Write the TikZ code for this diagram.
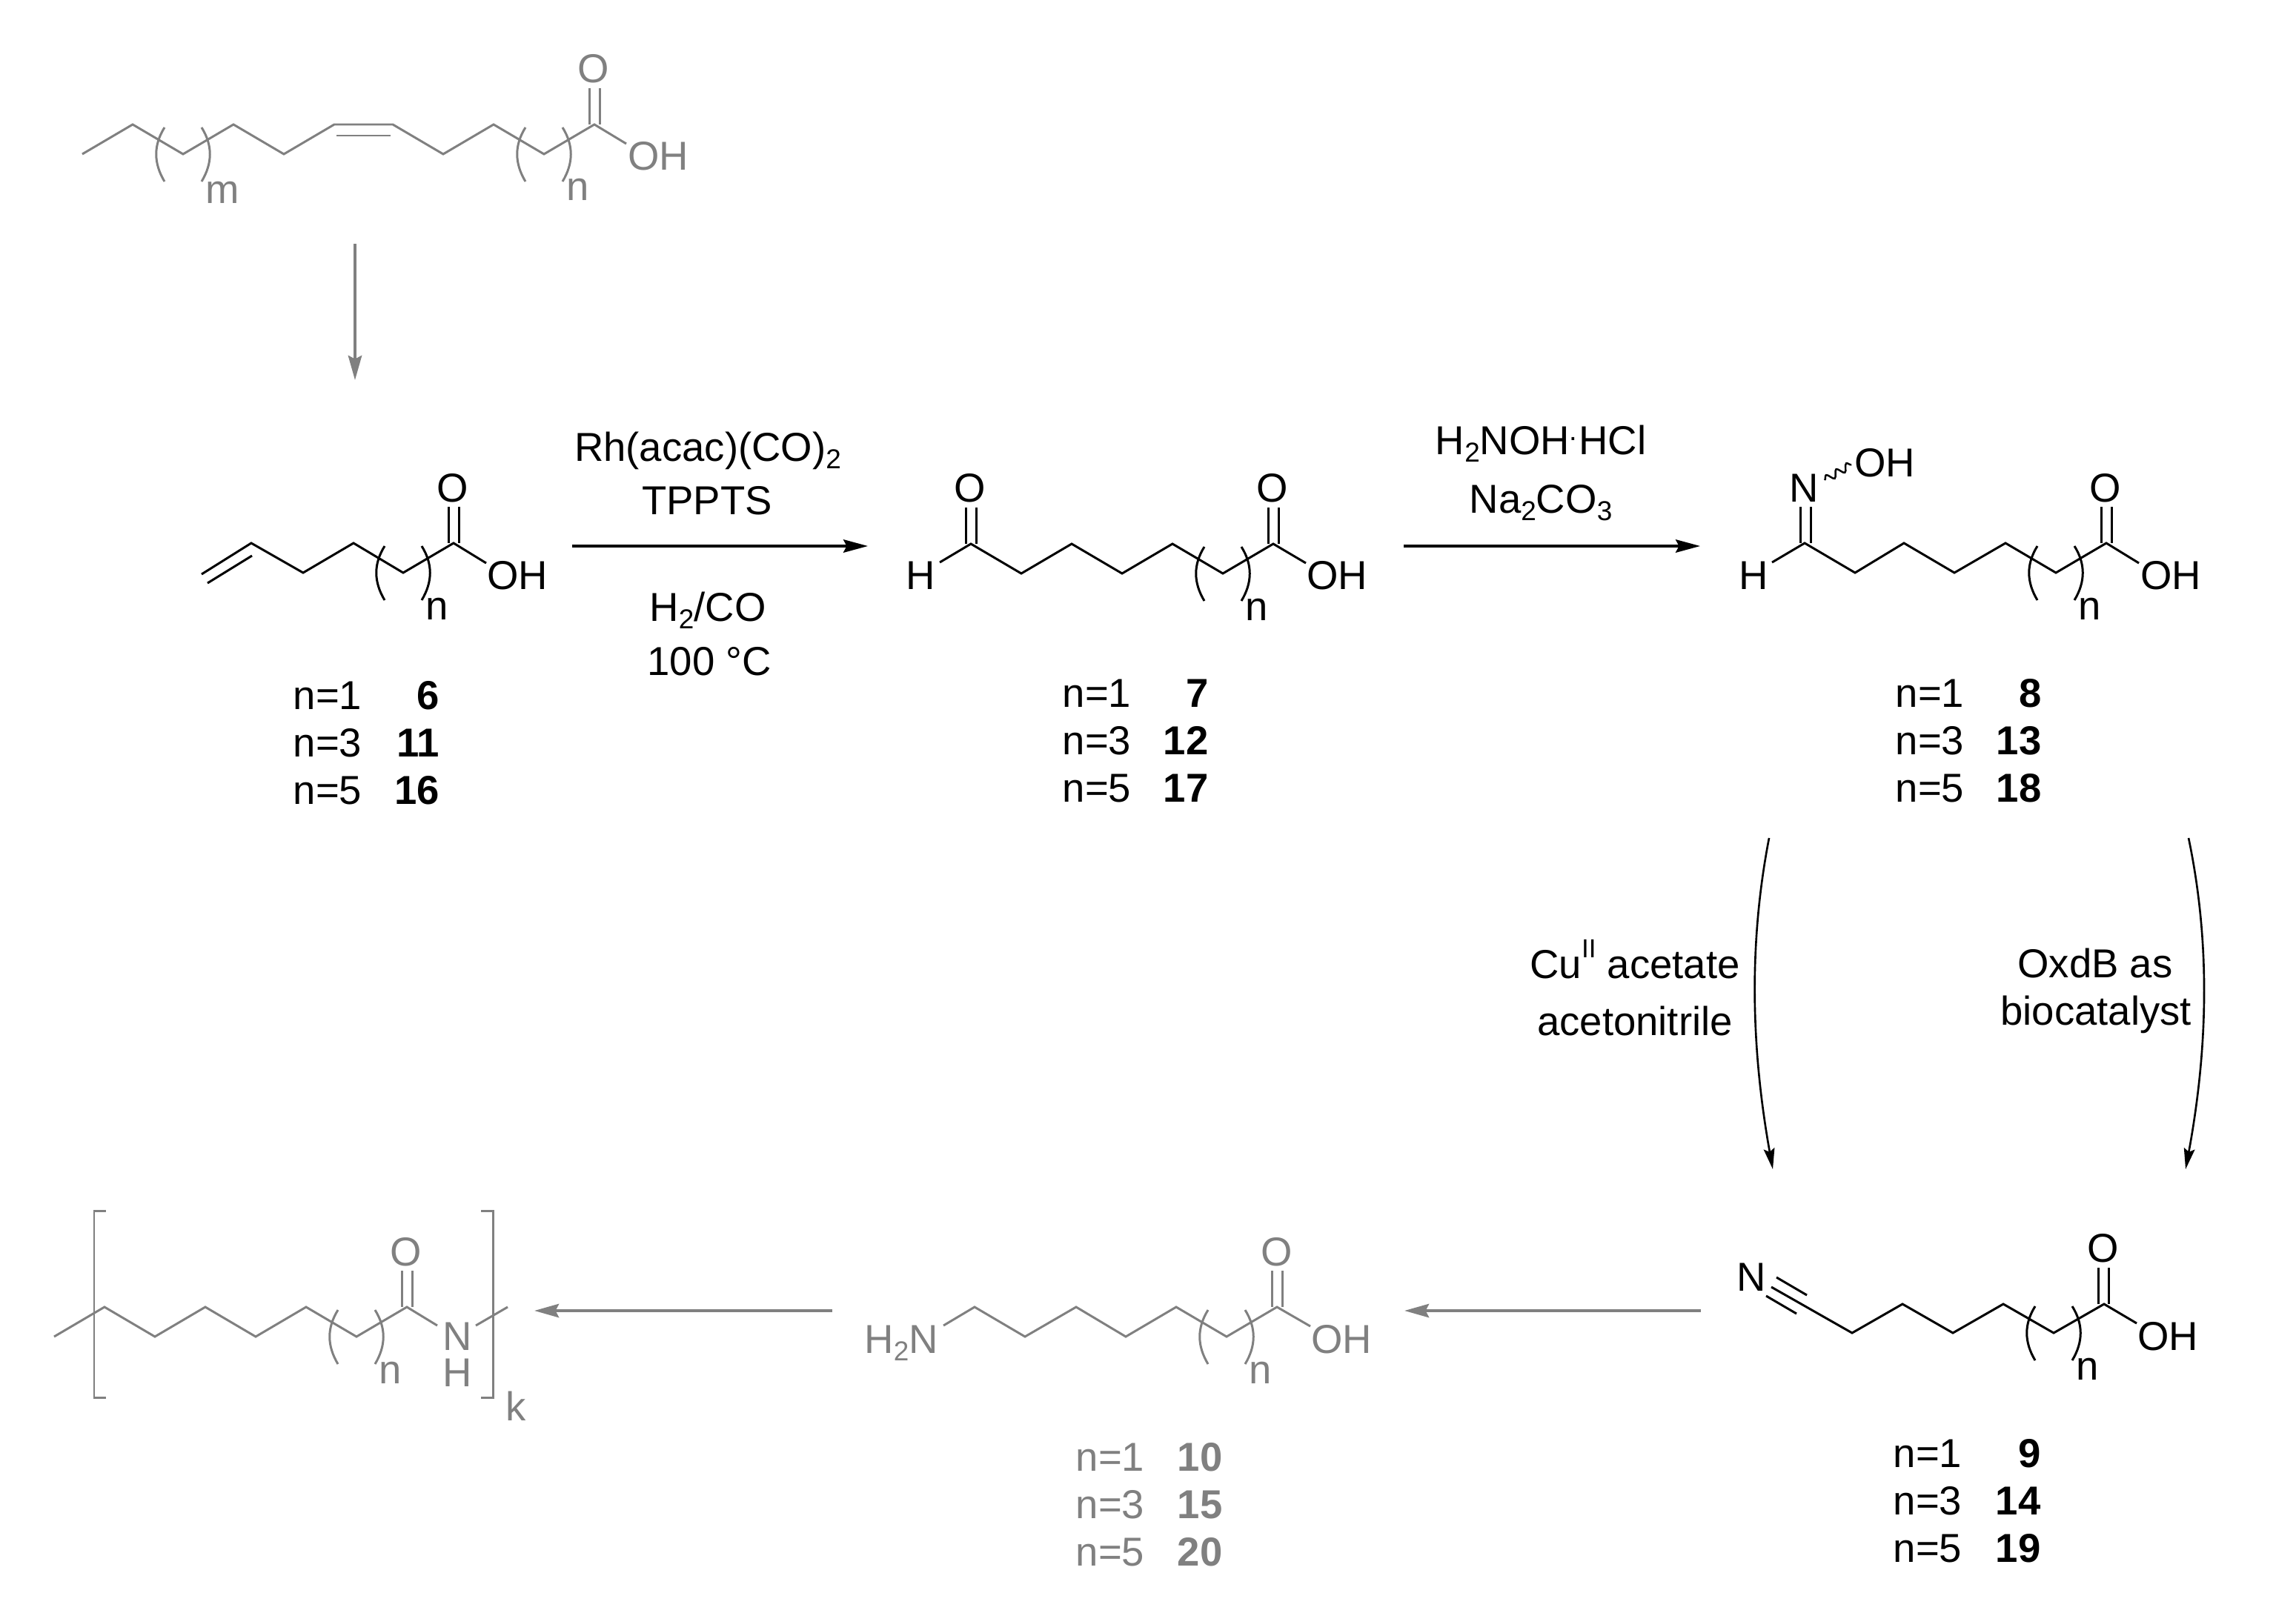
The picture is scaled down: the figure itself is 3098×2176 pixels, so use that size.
\documentclass[tikz,border=0pt]{standalone}
\usepackage{fontspec}
\setmainfont{Liberation Sans}
\usetikzlibrary{arrows.meta, decorations.pathmorphing}
\definecolor{greytone}{HTML}{808080}
\tikzstyle{bond} = [line width=0.85pt, line join=miter]
\tikzstyle{atom} = [inner sep=0pt, anchor=base, font=\fontsize{15.5}{18}\selectfont]
\tikzstyle{arrow} = [line width=0.95pt, -{Stealth[length=9.4pt,width=5pt,inset=1.3pt]}]
\tikzstyle{greyarrow} = [line width=1.15pt, -{Stealth[length=9.4pt,width=5.2pt,inset=1.3pt]}]
\tikzstyle{curvearrow} = [line width=0.75pt, -{Stealth[length=8pt,width=4.2pt,inset=1.3pt]}]
\newcommand{\subs}[1]{\raisebox{-0.2em}{\fontsize{10.5}{12}\selectfont #1}}
\newcommand{\sups}[1]{\raisebox{0.5em}{\fontsize{10}{12}\selectfont #1}}
% repeat unit round the vertex at (#4,#5)
\newcommand{\repunit}[5][63]{
    \draw [bond] ({#4-25},{#5-36}) .. controls ({#4-40},{#5-12}) and ({#4-40},{#5+12}) .. ({#4-25},{#5+37});
    \draw [bond] ({#4+25},{#5-36}) .. controls ({#4+40},{#5-12}) and ({#4+40},{#5+12}) .. ({#4+25},{#5+37});
    \node (#2) [atom, anchor=base west] at ({#4+30},{#5+#1}) {#3};
}
\newcommand{\dblbond}[2]{
    \draw [bond] ({#1-7},#2) -- ({#1-7},{#2-49});
    \draw [bond] ({#1+7},#2) -- ({#1+7},{#2-49});
}
\newcommand{\cpdlabels}[6]{
    \foreach \lab/\num/\dy in {1/#4/0,3/#5/64,5/#6/128} {
        \node (lab\num) [atom, anchor=base west] at ({#1-2},{#3+\dy}) {n=\lab};
        \node (num\num) [atom, anchor=base east] at ({#2+2},{#3+\dy}) {\bfseries\num};
    }
}

\begin{document}
\begin{tikzpicture}[x=0.01cm,y=-0.01cm]
    \useasboundingbox (0,0) rectangle (3098,2176);

    % fatty acid
    \begin{scope}[color=greytone]
    \draw [bond] (111,208) -- (179,168) -- (247,208) -- (315,168) -- (383,208) -- (451,168) -- (530,168) -- (598,208) -- (666,168) -- (734,208) -- (802,168) -- (845,194);
    \draw [bond] (454,183) -- (527,183);
    \dblbond{802}{168}
    \node (acidO) [atom] at (801,112) {O};
    \node (acidOH) [atom] at (888,230) {OH};
    \repunit[67]{acidm}{m}{247}{208}
    \repunit{acidn}{n}{734}{208}
    \coordinate (cleaveS) at (479,329);
    \coordinate (cleaveE) at (479,513);
    \draw [greyarrow] (cleaveS) -- (cleaveE);
    \end{scope}

    % alkene
    \draw [bond] (272,775) -- (339,733) -- (409,773) -- (477,733) -- (544,773) -- (612,733) -- (656,760);
    \draw [bond] (280,787) -- (340,750);
    \dblbond{612}{733}
    \node (alkeneO) [atom] at (611,677) {O};
    \node (alkeneOH) [atom] at (698,795) {OH};
    \repunit{alkenen}{n}{544}{773}
    \cpdlabels{397}{592}{957}{6}{11}{16}

    % hydroformylation
    \coordinate (hydroS) at (772,737);
    \coordinate (hydroE) at (1171,737);
    \draw [arrow] (hydroS) -- (hydroE);
    \node (rhcat) [atom] at (955,622) {Rh(acac)(CO)\subs{2}};
    \node (tppts) [atom] at (954,694) {TPPTS};
    \node (syngas) [atom] at (955,838) {H\subs{2}/CO};
    \node (temp) [atom] at (957,911) {100 °C};

    % aldehyde
    \draw [bond] (1268,759) -- (1310,734) -- (1378,774) -- (1446,734) -- (1514,774) -- (1582,734) -- (1650,774) -- (1718,734) -- (1762,760);
    \dblbond{1310}{734}
    \dblbond{1718}{734}
    \node (aldH) [atom] at (1242,795) {H};
    \node (aldO) [atom] at (1309,677) {O};
    \node (aldacidO) [atom] at (1717,677) {O};
    \node (aldOH) [atom] at (1804,795) {OH};
    \repunit{aldn}{n}{1650}{774}
    \cpdlabels{1435}{1629}{954}{7}{12}{17}

    % oxime formation
    \coordinate (oximeS) at (1894,737);
    \coordinate (oximeE) at (2294,737);
    \draw [arrow] (oximeS) -- (oximeE);
    \node (hydroxyl) [atom] at (2079,613) {H\subs{2}NOH\textsuperscript{.}HCl};
    \node (soda) [atom] at (2079,692) {Na\subs{2}CO\subs{3}};

    % oxime
    \draw [bond] (2391,759) -- (2435,733) -- (2503,773) -- (2569,733) -- (2637,773) -- (2706,733) -- (2774,773) -- (2842,733) -- (2886,760);
    \dblbond{2436}{733}
    \dblbond{2842}{733}
    \draw [line width=0.7pt, decorate, decoration={snake, amplitude=1.4pt, segment length=4.5pt}] (2462,648) -- (2498,627);
    \node (oxH) [atom] at (2366,795) {H};
    \node (oxN) [atom] at (2434,677) {N};
    \node (oxNOH) [atom] at (2543,643) {OH};
    \node (oxO) [atom] at (2841,677) {O};
    \node (oxOH) [atom] at (2929,795) {OH};
    \repunit{oxn}{n}{2774}{773}
    \cpdlabels{2559}{2753}{954}{8}{13}{18}

    % dehydration
    \coordinate (copperS) at (2387,1131);
    \coordinate (copperE) at (2392,1578);
    \coordinate (oxdS) at (2953,1131);
    \coordinate (oxdE) at (2949,1578);
    \draw [curvearrow] (copperS) .. controls (2361,1265) and (2361,1405) .. (copperE);
    \draw [curvearrow] (oxdS) .. controls (2981,1265) and (2981,1405) .. (oxdE);
    \node (copper) [atom] at (2206,1320) {Cu\sups{II} acetate};
    \node (mecn) [atom] at (2206,1397) {acetonitrile};
    \node (oxdb) [atom] at (2827,1319) {OxdB as};
    \node (biocat) [atom] at (2828,1383) {biocatalyst};

    % nitrile
    \draw [bond] (2390,1737) -- (2499,1799) -- (2567,1760) -- (2635,1799) -- (2703,1760) -- (2771,1799) -- (2839,1760) -- (2883,1786);
    \draw [bond] (2397,1724) -- (2438,1748);
    \draw [bond] (2383,1749) -- (2424,1773);
    \dblbond{2838}{1760}
    \node (nitN) [atom] at (2363,1742) {N};
    \node (nitO) [atom] at (2838,1703) {O};
    \node (nitOH) [atom] at (2925,1822) {OH};
    \repunit{nitn}{n}{2771}{1799}
    \cpdlabels{2556}{2752}{1980}{9}{14}{19}

    \begin{scope}[color=greytone]
    % amine
    \coordinate (reduceS) at (2295,1769);
    \coordinate (reduceE) at (1895,1769);
    \draw [greyarrow] (reduceS) -- (reduceE);
    \draw [bond] (1273,1789) -- (1315,1764) -- (1383,1804) -- (1452,1764) -- (1519,1804) -- (1587,1764) -- (1655,1804) -- (1723,1764) -- (1768,1790);
    \dblbond{1723}{1764}
    \node (amN) [atom] at (1216,1826) {H\subs{2}N};
    \node (amO) [atom] at (1723,1708) {O};
    \node (amOH) [atom] at (1810,1826) {OH};
    \repunit{amn}{n}{1655}{1804}
    \cpdlabels{1453}{1648}{1985}{10}{15}{20}

    % polyamide
    \coordinate (polyS) at (1123,1769);
    \coordinate (polyE) at (721,1769);
    \draw [greyarrow] (polyS) -- (polyE);
    \draw [bond] (73,1804) -- (141,1764) -- (209,1804) -- (277,1764) -- (345,1804) -- (413,1764) -- (481,1804) -- (549,1764) -- (590,1789);
    \draw [bond] (642,1789) -- (685,1764);
    \draw [bond] (143,1634) -- (127,1634) -- (127,1886) -- (143,1886);
    \draw [bond] (649,1634) -- (665,1634) -- (665,1886) -- (649,1886);
    \dblbond{549}{1764}
    \node (polyO) [atom] at (548,1708) {O};
    \node (polyN) [atom] at (617,1822) {N};
    \node (polyH) [atom] at (617,1871) {H};
    \node (polyk) [atom] at (696,1917) {k};
    \repunit{polyn}{n}{481}{1804}
    \end{scope}
\end{tikzpicture}
\end{document}
